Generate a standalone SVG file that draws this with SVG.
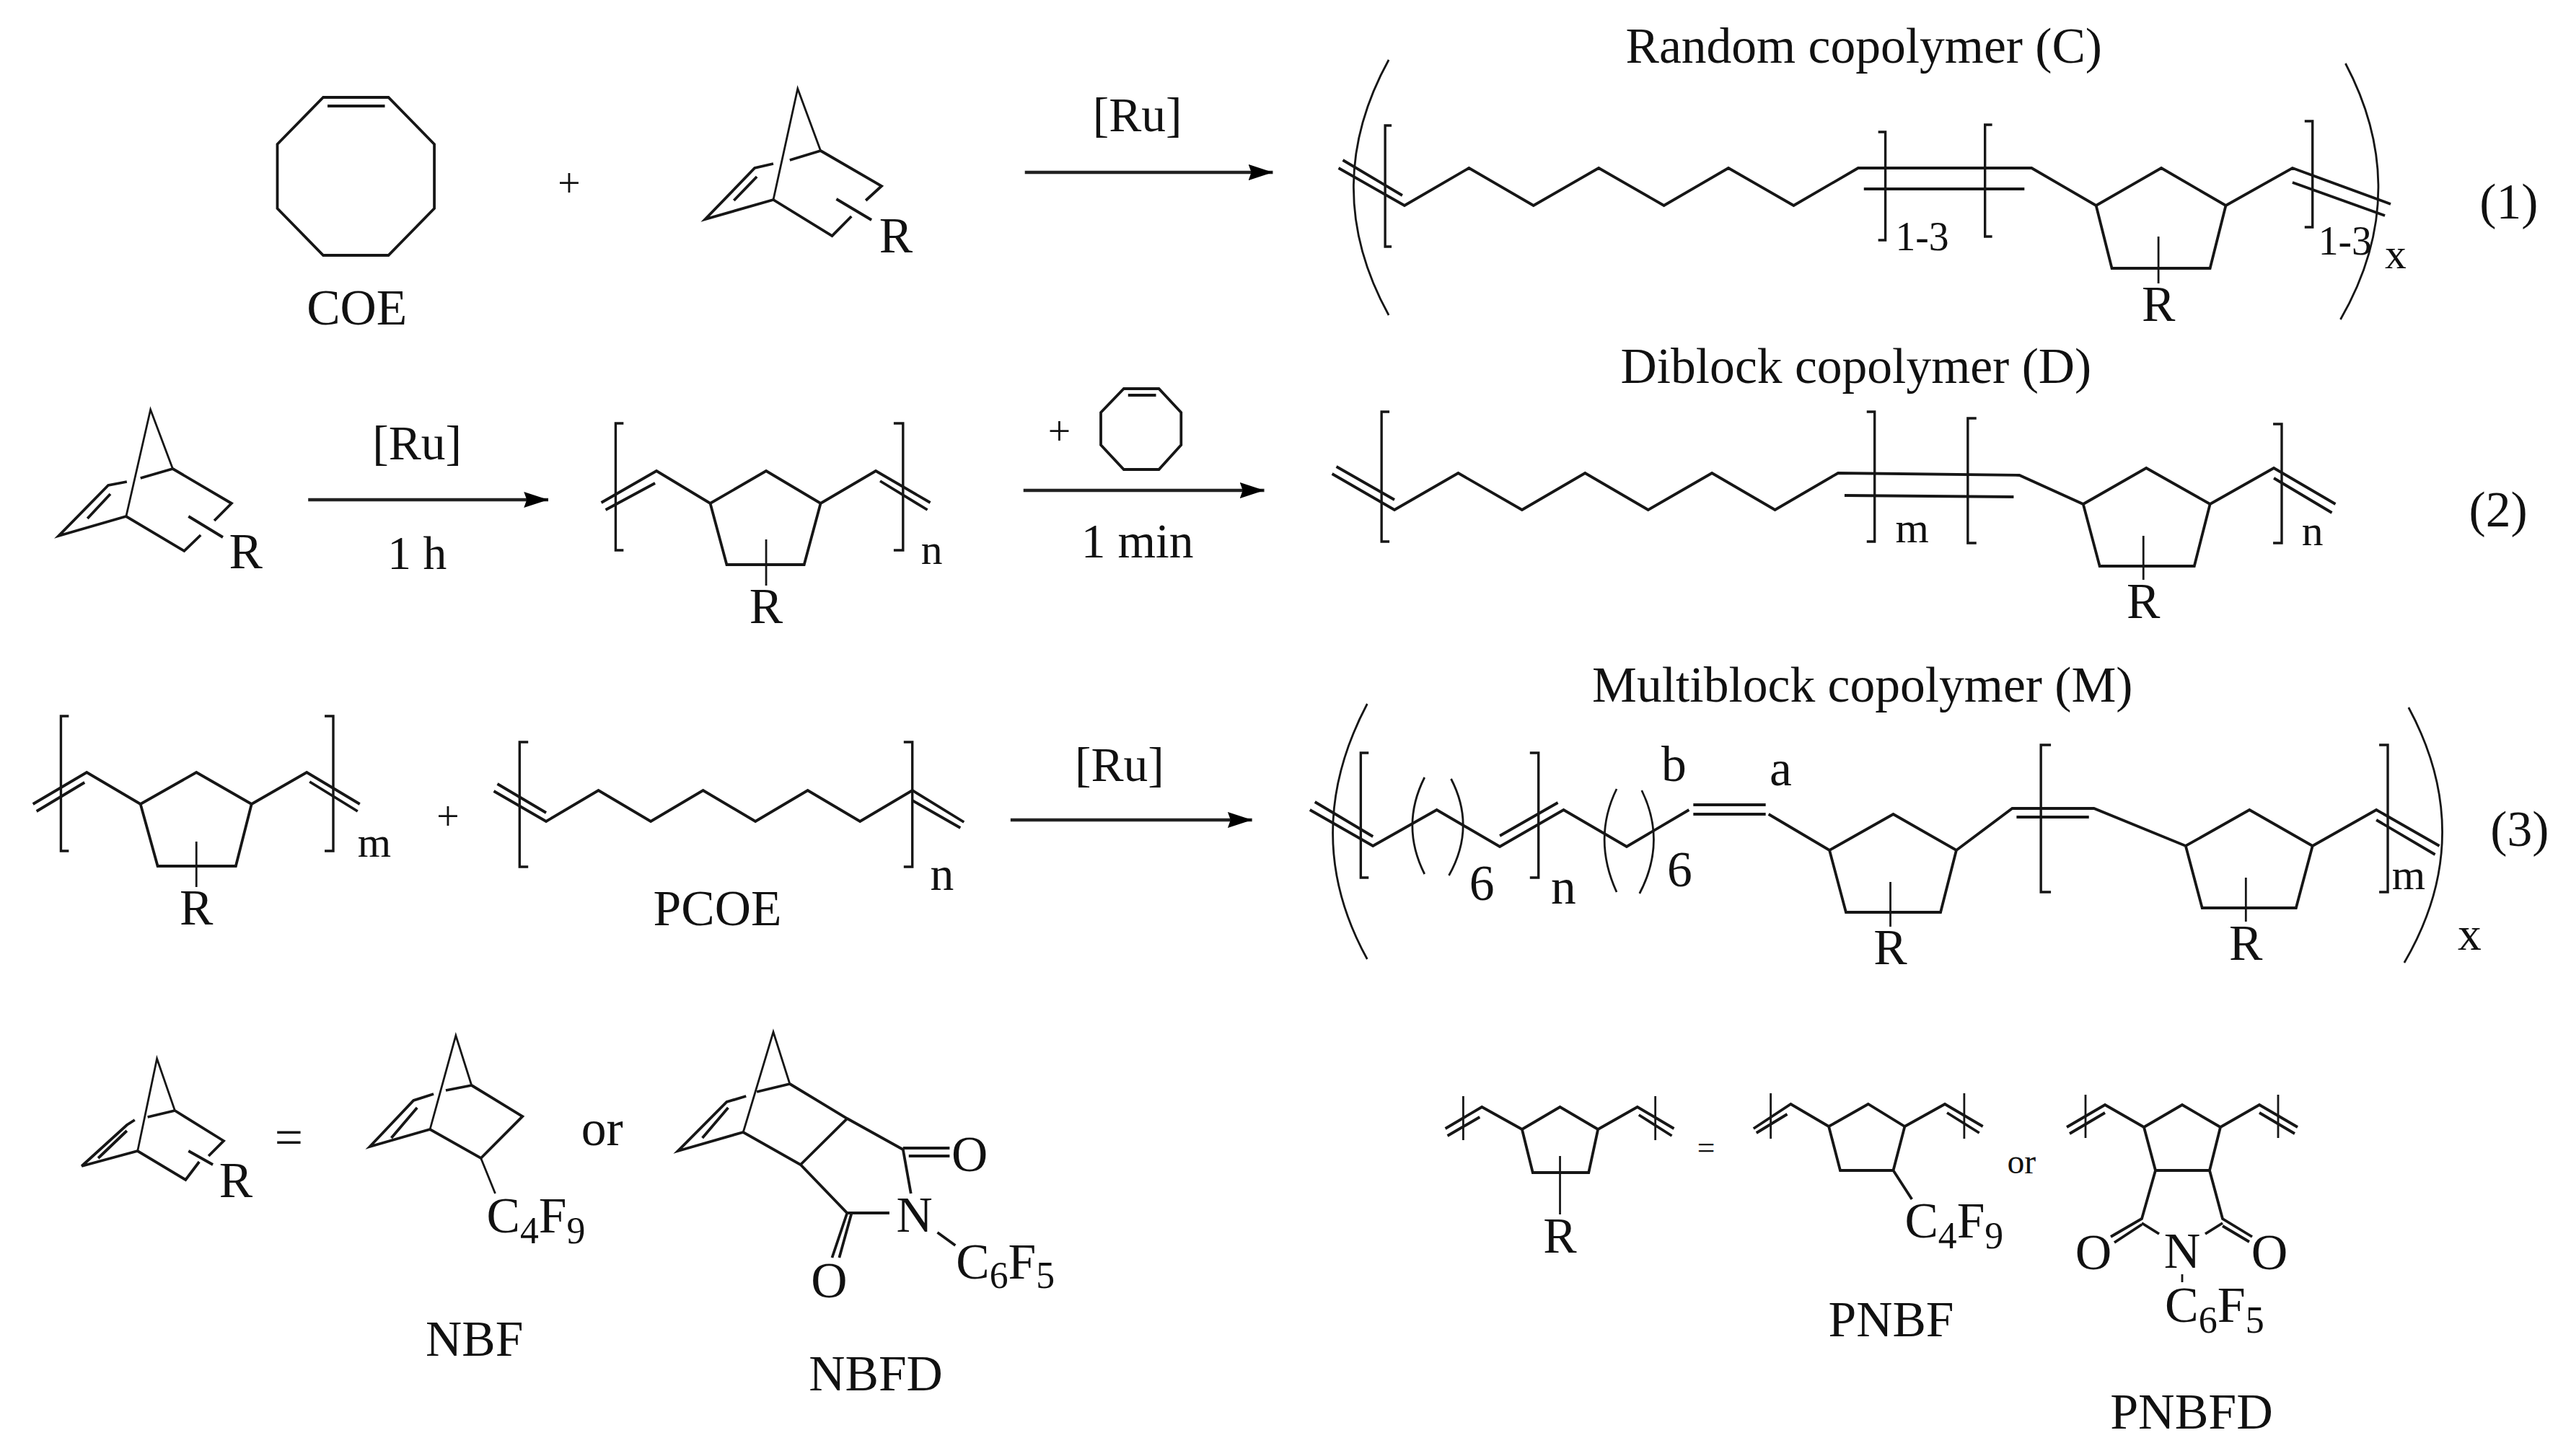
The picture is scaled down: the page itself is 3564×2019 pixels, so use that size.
<svg xmlns="http://www.w3.org/2000/svg" width="3564" height="2019" viewBox="0 0 3564 2019">
<style>
text{font-family:"Liberation Serif","Times New Roman",serif;fill:#111;font-size:70px}
.c{text-anchor:middle}
.s{font-size:56px}
.m{font-size:60px}
.sub{font-size:52px}
.b,.t,.k{fill:none;stroke:#161616;stroke-linejoin:miter;stroke-linecap:butt}
.b{stroke-width:3.8}
.t{stroke-width:2.8}
.k{stroke-width:3.4}
.a{fill:none;stroke:#222;stroke-width:4.5}
</style>
<defs>
<marker id="head" markerUnits="userSpaceOnUse" markerWidth="36" markerHeight="24" refX="34" refY="12" orient="auto"><path d="M0 1L34 12L0 23L4 12Z" fill="#000"/></marker>
</defs>
<rect width="3564" height="2019" fill="#fff"/>
<g id="connectors" transform="matrix(.9935 0 0 1 0 0)">
<path class="a" marker-end="url(#head)" d="M1430 239H1776"/>
<path class="a" marker-end="url(#head)" d="M430 693H765"/>
<path class="a" marker-end="url(#head)" d="M1428 680H1764"/>
<path class="a" marker-end="url(#head)" d="M1410 1137H1747"/>
</g>
<g id="left-half" transform="matrix(.9935 0 0 1 0 0)">
<g id="coe-1">
<path class="b" d="M451 135H542L606 200V289L542 354H451L387 289V200ZM457 147H537"/>
<text class="c" x="498" y="450">COE</text>
</g>
<text id="plus-1" class="c" x="794" y="273" style="font-size:56px">+</text>
<g id="nb-1">
<path class="t" d="M1079 277L1113 123L1145 209"/>
<path class="b" d="M1145 209L1102 222M1079 227L1053 233L984 304L1079 277L1161 327L1188 300M1208 278L1230 258L1145 209M1056 245L1024 278M1167 276L1216 305"/>
<text class="c" x="1250" y="350">R</text>
</g>
<text id="ru-1" class="c" x="1587" y="182" style="font-size:68px">[Ru]</text>
<g id="nb-2">
<path class="t" d="M176 716L210 568L241 650"/>
<path class="b" d="M241 650L196 663M177 668L151 673L82 743L176 716L257 764L280 742M299 722L323 698L241 650M154 685L122 719M263 716L311 745"/>
<text class="c" x="343" y="788">R</text>
</g>
<g id="ru-2"><text class="c" x="582" y="637" style="font-size:68px">[Ru]</text><text class="c" x="582" y="789" style="font-size:66px">1 h</text></g>
<g id="pnb-2">
<path class="k" d="M870 587H859V763H870M1247 587H1260V763H1247"/>
<path class="b" d="M839 697L916 653L991 698L1069 653L1145 698L1222 653L1298 697M845 707L914 670M1228 667L1294 707M991 698L1014 783H1122L1145 698"/>
<path class="t" d="M1069 748V812"/>
<text class="c" x="1069" y="864">R</text>
<text class="m" x="1285" y="782">n</text>
</g>
<g id="coe-2">
<text class="c" x="1478" y="617" style="font-size:56px">+</text>
<path class="b" d="M1568 539H1617L1648 572V617L1617 651H1568L1536 617V572ZM1574 548H1613"/>
<text class="c" x="1587" y="773" style="font-size:68px">1 min</text>
</g>
<g id="pnb-3">
<path class="k" d="M96 993H85V1180H96M453 993H465V1180H453"/>
<path class="b" d="M46 1115L121 1071L196 1115L274 1071L351 1115L428 1071L502 1115M51 1125L118 1085M432 1084L499 1125M196 1115L220 1201H329L351 1115"/>
<path class="t" d="M274 1167V1230"/>
<text class="c" x="274" y="1282">R</text>
<text class="m" x="499" y="1188">m</text>
</g>
<text id="plus-3" class="c" x="625" y="1151" style="font-size:56px">+</text>
<g id="pcoe">
<path class="k" d="M737 1029H725V1202H737M1261 1029H1273V1202H1261"/>
<path class="b" d="M694 1087L762 1127M689 1097L762 1139L835 1096L908 1139L981 1096L1054 1139L1127 1096L1200 1139L1273 1096L1345 1140M1273 1110L1340 1148"/>
<text x="1298" y="1234" style="font-size:66px">n</text>
<text class="c" x="1001" y="1283">PCOE</text>
</g>
<text id="ru-3" class="c" x="1562" y="1083" style="font-size:68px">[Ru]</text>
<g id="nb-legend" transform="translate(0 -1)">
<path class="t" d="M192 1597L219 1469L244 1541"/>
<path class="b" d="M244 1541L206 1550M188 1554L177 1561L114 1618L192 1597L259 1637L278 1612M291 1604L312 1583L244 1541M177 1569L137 1607M263 1597L297 1616"/>
<text class="c" x="329" y="1661">R</text>
<text class="c" x="403" y="1602">=</text>
</g>
<g id="nbf" transform="translate(0 -1)">
<path class="t" d="M600 1567L636 1437L658 1506M671 1607L691 1656"/>
<path class="b" d="M658 1506L622 1513M605 1518L577 1527L516 1591L600 1567L671 1607L729 1549L658 1506M582 1537L546 1579"/>
<text x="679" y="1710">C<tspan class="sub" dy="15">4</tspan><tspan dy="-15">F</tspan><tspan class="sub" dy="15">9</tspan></text>
<text x="811" y="1589">or</text>
<text class="c" x="662" y="1881">NBF</text>
</g>
<g id="nbfd" transform="translate(0 -1)">
<path class="t" d="M1037 1571L1079 1432L1102 1504"/>
<path class="b" d="M1102 1504L1056 1515M1041 1521L1014 1529L946 1597L1037 1571L1117 1616L1182 1683L1241 1683M1102 1504L1182 1552L1117 1616M1182 1552L1260 1595L1271 1656M1016 1537L980 1579M1260 1593H1325M1268 1604H1325M1182 1683L1161 1745M1188 1684L1171 1745M1308 1710L1333 1728"/>
<text class="c" x="1353" y="1625">O</text>
<text class="c" x="1276" y="1709">N</text>
<text class="c" x="1157" y="1800">O</text>
<text x="1334" y="1774">C<tspan class="sub" dy="13">6</tspan><tspan dy="-13">F</tspan><tspan class="sub" dy="13">5</tspan></text>
<text class="c" x="1222" y="1929">NBFD</text>
</g>
</g>
<g id="right-half" transform="matrix(.9935 0 0 1 11.6 0)">
<g id="random-copolymer">
<text class="c" x="2589" y="87">Random copolymer (C)</text>
<path class="t" d="M1926 83Q1828 260 1926 437M3261 88Q3356 267 3254 443"/>
<path class="k" d="M1930 174H1921V342H1930M2609 183H2619V333H2609M2768 173H2758V328H2768M3204 168H3215V315H3204"/>
<path class="b" d="M1862 222L1945 271M1856 233L1948 285L2038 233L2128 285L2219 233L2310 285L2400 233L2491 285L2581 233H2823L2913 285L3004 233L3094 285L3187 233L3324 283M3187 253L3316 299M2589 262H2813M2913 285L2935 372H3072L3094 285"/>
<path class="t" d="M3000 328V393"/>
<text class="c" x="3000" y="445">R</text>
<text class="s" x="2633" y="347">1-3</text>
<text class="s" x="3223" y="353">1-3</text>
<text class="m" x="3316" y="372">x</text>
<text class="c" x="3489" y="303">(1)</text>
</g>
<g id="diblock-copolymer">
<text class="c" x="2578" y="531">Diblock copolymer (D)</text>
<path class="k" d="M1927 571H1916V751H1927M2593 571H2604V751H2593M2746 580H2734V753H2746M3160 588H3172V753H3160"/>
<path class="b" d="M1853 647L1934 693M1847 657L1934 707L2023 656L2112 707L2200 656L2288 707L2377 656L2465 707L2553 656L2806 659L2895 699L2983 649L3072 699L3161 649L3247 699M3161 663L3242 711M2562 687L2798 689M2895 699L2918 785H3050L3072 699"/>
<path class="t" d="M2979 743V804"/>
<text class="c" x="2979" y="857">R</text>
<text class="m" x="2633" y="752">m</text>
<text class="m" x="3200" y="756">n</text>
<text class="c" x="3474" y="730">(2)</text>
</g>
<g id="multiblock-copolymer">
<text class="c" x="2587" y="973">Multiblock copolymer (M)</text>
<path class="t" d="M1896 976Q1800 1157 1896 1330M3349 981Q3446 1160 3343 1335"/>
<path class="t" d="M1976 1078Q1942 1145 1976 1212M2013 1080Q2048 1147 2010 1214M2244 1094Q2210 1163 2244 1237M2279 1096Q2314 1167 2276 1239"/>
<path class="k" d="M1898 1044H1887V1217H1898M2123 1044H2135V1217H2123M2850 1033H2836V1237H2850M3308 1033H3320V1237H3308"/>
<path class="b" d="M1823 1112L1904 1160M1816 1123L1904 1173L1993 1123L2081 1174L2170 1123L2258 1174L2345 1123M2081 1159L2162 1113M2351 1116H2452M2351 1129H2452M2456 1129L2541 1179L2630 1129L2718 1179L2796 1121H2910L3038 1173L3127 1123L3215 1173L3304 1123L3392 1173M3304 1137L3386 1185M2802 1133H2903M2541 1179L2564 1265H2696L2718 1179M3038 1173L3061 1259H3192L3215 1173"/>
<path class="t" d="M2626 1223V1285M3122 1217V1278"/>
<text class="c" x="2626" y="1337">R</text>
<text class="c" x="3122" y="1331">R</text>
<text class="c" x="2056" y="1248">6</text>
<text class="c" x="2332" y="1229">6</text>
<text class="c" x="2170" y="1253">n</text>
<text class="c" x="2324" y="1083">b</text>
<text class="c" x="2473" y="1089">a</text>
<text class="c m" x="3349" y="1233">m</text>
<text class="c" x="3434" y="1317" style="font-size:66px">x</text>
<text class="c" x="3504" y="1173">(3)</text>
</g>
<g id="pnb-legend" transform="translate(0 -2)">
<path class="t" d="M2030 1522V1583M2298 1522V1583M2165 1605V1686"/>
<path class="b" d="M2005 1567L2056 1537L2112 1568L2165 1537L2218 1568L2273 1537L2324 1567M2008 1577L2053 1551M2275 1548L2321 1577M2112 1568L2127 1628H2205L2218 1568"/>
<text class="c" x="2165" y="1739">R</text>
<text class="c" x="2369" y="1608" style="font-size:44px">=</text>
</g>
<g id="pnbf" transform="translate(0 -2)">
<path class="t" d="M2459 1518V1581M2729 1518V1581"/>
<path class="b" d="M2435 1567L2487 1533L2540 1564L2595 1533L2646 1564L2702 1533L2755 1564M2439 1573L2482 1547M2705 1545L2750 1573M2540 1564L2556 1625H2630L2646 1564M2630 1625L2656 1665"/>
<text x="2646" y="1718">C<tspan class="sub" dy="15">4</tspan><tspan dy="-15">F</tspan><tspan class="sub" dy="15">9</tspan></text>
<text x="2789" y="1629" style="font-size:48px">or</text>
<text class="c" x="2627" y="1855">PNBF</text>
</g>
</g>
<g id="pnbfd">
<path class="t" d="M2891 1518V1578M3158 1518V1578M3025 1767V1778"/>
<path class="b" d="M2865 1563L2918 1532L2972 1563L3025 1532L3078 1563L3132 1532L3185 1563M2869 1572L2918 1543M3132 1543L3181 1572M2972 1563L2988 1623H3063L3078 1563M2988 1623L2969 1690L2926 1715M2969 1698L2931 1723M2969 1696L2993 1711M3063 1623L3081 1690L3122 1715M3081 1700L3118 1722M3081 1696L3057 1711"/>
<text class="c" x="2902" y="1760">O</text>
<text class="c" x="3146" y="1760">O</text>
<text class="c" x="3025" y="1758">N</text>
<text x="3001" y="1833">C<tspan class="sub" dy="15">6</tspan><tspan dy="-15">F</tspan><tspan class="sub" dy="15">5</tspan></text>
<text class="c" x="3038" y="1981">PNBFD</text>
</g>
</svg>
